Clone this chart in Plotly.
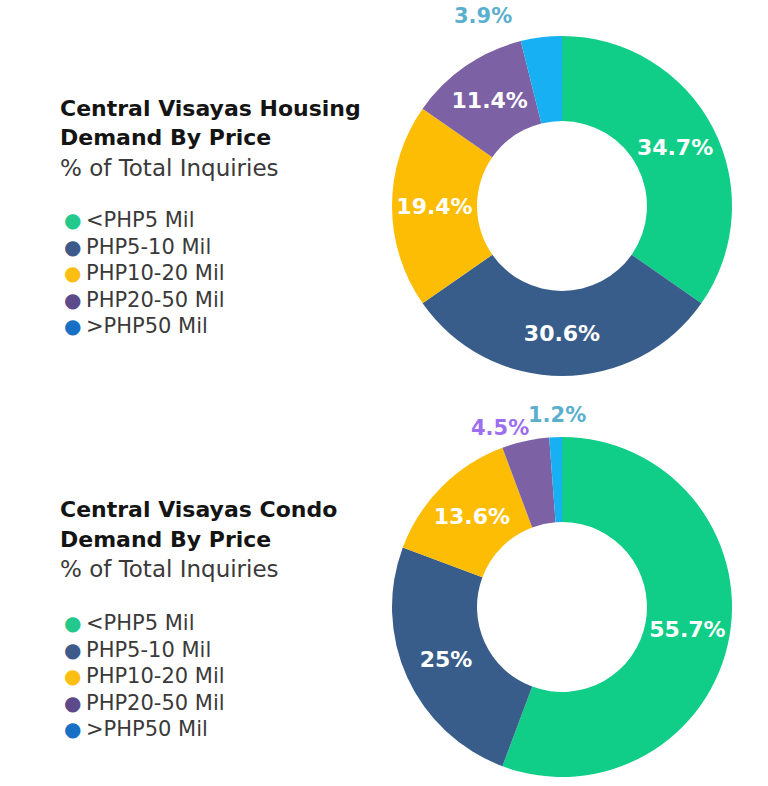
import plotly.graph_objects as go

categories = ["<PHP5 Mil", "PHP5-10 Mil", "PHP10-20 Mil", "PHP20-50 Mil", ">PHP50 Mil"]
housing_values = [34.7, 30.6, 19.4, 11.4, 3.9]
condo_values = [55.7, 25.0, 13.6, 4.5, 1.2]
housing_labels = ["34.7%", "30.6%", "19.4%", "11.4%", "3.9%"]
condo_labels = ["55.7%", "25%", "13.6%", "4.5%", "1.2%"]

slice_colors = ["#10cd87", "#395d8b", "#fdbd05", "#7c62a4", "#17b0f3"]
legend_colors = ["#22c98b", "#3d5a8b", "#fbbf14", "#5d4a8a", "#1870c6"]

FONT = "DejaVu Sans"
W, H = 768, 786

def px(x):
    return x / W

def py(y):
    return 1 - y / H

fig = go.Figure()

def add_donut(values, labels, ydom, inside_idx):
    texts = [labels[i] if i in inside_idx else "" for i in range(len(values))]
    fig.add_trace(go.Pie(
        values=values, labels=categories, text=texts, textinfo="text",
        sort=False, direction="clockwise", rotation=0, hole=0.5,
        marker=dict(colors=slice_colors, line=dict(width=0)),
        textposition="inside", insidetextorientation="horizontal",
        textfont=dict(family=FONT, size=22, color="white", weight="bold"),
        domain=dict(x=[px(392), px(732)], y=ydom),
        showlegend=False, hoverinfo="label+percent",
    ))

add_donut(housing_values, housing_labels, [py(376), py(36)], [0, 1, 2, 3])
add_donut(condo_values, condo_labels, [py(777), py(437)], [0, 1, 2])

annotations = []

def text(x, y, s, size, color, bold=False, anchor="left"):
    annotations.append(dict(
        x=px(x), y=py(y), xref="paper", yref="paper", text=s, showarrow=False,
        xanchor=anchor, yanchor="middle",
        font=dict(family=FONT, size=size, color=color, weight="bold" if bold else "normal"),
    ))

def block(y0, title1, title2, legend_y):
    text(58, y0, title1, 22, "#141414", bold=True)
    text(58, y0 + 30, title2, 22, "#141414", bold=True)
    text(58, y0 + 60, "% of Total Inquiries", 23, "#3a3a3a")
    for i, cat in enumerate(categories):
        s = cat.replace("<", "&lt;").replace(">", "&gt;")
        yy = legend_y + i * 26.5
        text(72, yy, "●", 20, legend_colors[i], anchor="center")
        text(84, yy, s, 21, "#3a3a3a")

block(108, "Central Visayas Housing", "Demand By Price", 220)
block(509, "Central Visayas Condo", "Demand By Price", 623)

# outside labels for small slices
text(483, 16, housing_labels[4], 21, "#5aafcf", bold=True, anchor="center")
text(500, 428, condo_labels[3], 21, "#9d6ff0", bold=True, anchor="center")
text(557, 415, condo_labels[4], 21, "#5aafcf", bold=True, anchor="center")

fig.update_layout(
    width=W, height=H, margin=dict(l=0, r=0, t=0, b=0),
    paper_bgcolor="white", plot_bgcolor="white",
    annotations=annotations, showlegend=False,
)

fig.write_html("out.html")
